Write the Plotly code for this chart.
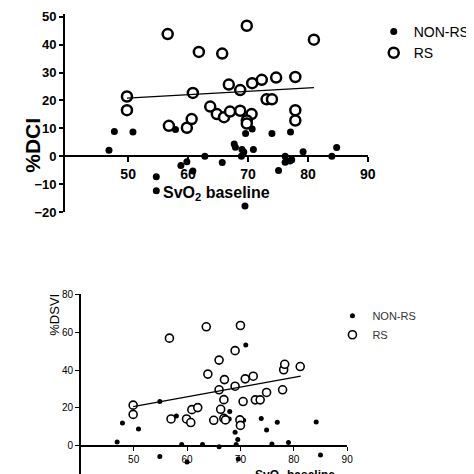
import plotly.graph_objects as go

# Top panel (%DCI)
top_rs_x = [56.6,69.8,81,61.8,65.7,49.8,49.8,60.8,66.8,68.7,70.7,72.3,74.7,77.9,63.7,64.8,66,67,68.7,70.6,69.8,69.8,73.1,74,77.9,77.9,56.8,59.8,60.6]
top_rs_y = [43.8,46.8,41.8,37.4,36.8,21.4,16.5,22.7,25.7,23.7,26.2,27.4,28.2,28.4,17.8,15.1,14,16,16.3,15.1,12.8,11.7,20.4,20.4,16.5,12.8,10.9,10.2,13.3]
top_non_x = [46.8,47.7,50.8,57.9,54.7,54.7,58.8,59.8,60.8,62.8,65.7,67.7,67.9,69,69.3,68.9,69.6,70.7,70.9,69.5,74,75.1,76.2,76.2,77,77.1,79.2,84,84.8,77.3]
top_non_y = [2.1,8.9,8.7,9.6,-7.4,-12.4,-3.3,-2,-5.3,0,-2.3,4.4,3.2,2.4,1.5,0,8.1,9.8,2.4,-17.9,8.1,-5.1,0,-2.2,-1.7,8.7,1.6,0,3.1,-1.3]
top_fit_x = [49.8, 81]
top_fit_y = [20.8, 24.6]

# Bottom panel (%DSVI)
bot_rs_x = [56.7,63.6,70,69,66,63.9,67,69,66,66.9,70.9,72.4,70.5,72.8,73.7,74.9,78.1,78.3,81.2,77.9,49.9,49.9,57,59.9,60.7,60.9,62,65,66.3,66.9,67.2,69.9,70]
bot_rs_y = [56.9,62.9,63.6,50.3,45.3,37.9,35,31.5,29.6,24.4,35.4,36.8,23.4,24.3,24.3,28.2,40.2,43.1,41.9,29.6,21.5,16.6,14.2,14.2,12.3,19.1,20.2,13.5,19.3,14.5,13.7,13.7,10.8]
bot_non_x = [46.9,47.9,50.9,54.9,58,54.9,59,60,62.9,66,68,67.9,69,69.5,69.2,69.6,71,70.6,73.9,74.9,75.9,76.9,79,84.2,85]
bot_non_y = [2,12.1,8.9,23.4,15.7,-5.6,0.7,-8.5,0.7,-0.5,18.1,14.2,7.2,3.4,0.7,-7,53.3,13.5,14.4,8.4,1,12.5,1.7,12.6,-4.8]
bot_fit_x = [49.9, 81.3]
bot_fit_y = [20.7, 36.8]

xticks = [50, 60, 70, 80, 90]
top_yticks = [-20, -10, 0, 10, 20, 30, 40, 50]
bot_yticks = [0, 20, 40, 60, 80]

W = 474
fig = go.Figure()
fig.add_trace(go.Scatter(x=top_non_x, y=top_non_y, mode="markers", name="NON-RS", xaxis="x", yaxis="y",
                         marker=dict(color="black", size=7), legend="legend"))
fig.add_trace(go.Scatter(x=top_rs_x, y=top_rs_y, mode="markers", name="RS", xaxis="x", yaxis="y",
                         marker=dict(color="white", size=10, line=dict(color="black", width=2.5)), legend="legend"))
fig.add_trace(go.Scatter(x=top_fit_x, y=top_fit_y, mode="lines", showlegend=False, xaxis="x", yaxis="y",
                         line=dict(color="black", width=1.2)))
fig.add_trace(go.Scatter(x=bot_non_x, y=bot_non_y, mode="markers", name="NON-RS", xaxis="x2", yaxis="y2",
                         marker=dict(color="black", size=5), legend="legend2"))
fig.add_trace(go.Scatter(x=bot_rs_x, y=bot_rs_y, mode="markers", name="RS", xaxis="x2", yaxis="y2",
                         marker=dict(color="white", size=8, line=dict(color="black", width=1.6)), legend="legend2"))
fig.add_trace(go.Scatter(x=bot_fit_x, y=bot_fit_y, mode="lines", showlegend=False, xaxis="x2", yaxis="y2",
                         line=dict(color="black", width=1.2)))

ax = dict(showgrid=False, zeroline=False, showline=True, linecolor="black", ticks="outside",
          tickcolor="black", color="black")
fig.update_layout(
    width=W, height=W, margin=dict(l=0, r=0, t=0, b=0),
    paper_bgcolor="white", plot_bgcolor="white",
    font=dict(family="Liberation Sans, Arial", color="black"),
    xaxis=dict(ax, domain=[57/W, 366/W], range=[39.3, 90], anchor="free", position=1-146.5/W,
               tickvals=xticks, linewidth=2, tickwidth=2, ticklen=5,
               tickfont=dict(size=14, weight="bold")),
    yaxis=dict(ax, domain=[1-204/W, 1], range=[-20, 51.0], anchor="free", position=57/W,
               tickvals=top_yticks, linewidth=2, tickwidth=2, ticklen=4,
               tickfont=dict(size=13, weight="bold")),
    xaxis2=dict(ax, domain=[73/W, 345/W], range=[39.9, 90], anchor="free", position=1-445/W,
                tickvals=xticks, linewidth=1.5, ticklen=4, tickfont=dict(size=10)),
    yaxis2=dict(ax, domain=[0, 1-289/W], range=[-14.9, 80], anchor="free", position=73/W,
                tickvals=bot_yticks, linewidth=1.5, ticklen=4, tickfont=dict(size=10)),
    legend=dict(x=372/W, y=1-2/W, xanchor="left", yanchor="top", font=dict(size=14),
                bgcolor="rgba(0,0,0,0)", tracegroupgap=2, itemsizing="trace"),
    legend2=dict(x=330/W, y=1-296/W, xanchor="left", yanchor="top", font=dict(size=11, color="#333"),
                 bgcolor="rgba(0,0,0,0)", itemsizing="trace"),
    annotations=[
        dict(text="<b>%DCI</b>", x=11/W, y=1-105/W, xref="paper", yref="paper", textangle=-90,
             showarrow=False, font=dict(size=21)),
        dict(text="<b>SvO<sub>2</sub> baseline</b>", x=212/W, y=1-185/W, xref="paper", yref="paper",
             showarrow=False, font=dict(size=16)),
        dict(text="%DSVI", x=38/W, y=1-310/W, xref="paper", yref="paper", textangle=-90,
             showarrow=False, font=dict(size=13)),
        dict(text="<b>SvO<sub>2</sub> baseline</b>", x=335/W, y=1-466/W, xref="paper", yref="paper",
             yanchor="top", showarrow=False, font=dict(size=12)),
    ],
)
fig.write_html("out.html")
